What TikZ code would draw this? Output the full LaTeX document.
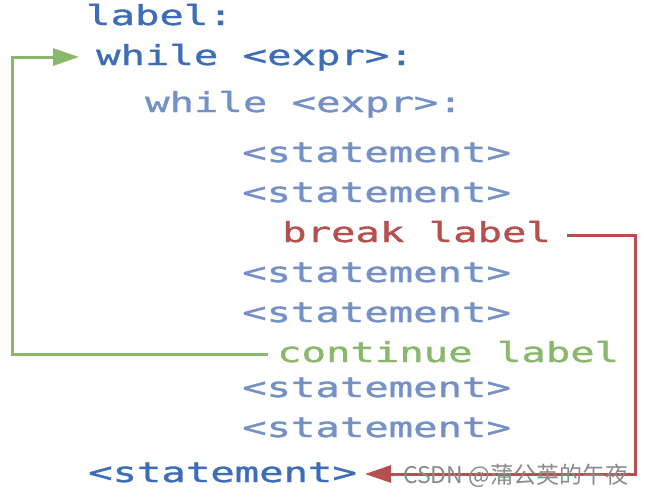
\documentclass[tikz,border=0pt]{standalone}
\usepackage{fontspec}
\newfontfamily\codefont[FakeStretch=1.47,FakeBold=1.2]{DejaVu Sans Mono}
\newfontfamily\cjkfont{Noto Sans CJK SC}
\usetikzlibrary{arrows.meta}
\definecolor{dblue}{HTML}{3D6CB8}
\definecolor{lblue}{HTML}{7490C6}
\definecolor{cred}{HTML}{B5504E}
\definecolor{cgreen}{HTML}{8AB86A}
\definecolor{wm}{HTML}{8A8A8A}
\tikzset{
  code/.style={anchor=base west, inner sep=0pt, font=\codefont\fontsize{27.6}{33}\selectfont},
  link/.style={line width=3pt, -{Triangle[length=26pt,width=17pt]}},
}
\begin{document}
\begin{tikzpicture}[x=1pt,y=-1pt]
\useasboundingbox[fill=white] (0,0) rectangle (647,498);
\node[code,text=dblue] (lab) at (86,25) {label:};
\node[code,text=dblue] (w1) at (96,65) {while <expr>:};
\node[code,text=lblue] (w2) at (145,112) {while <expr>:};
\node[code,text=lblue] (s1) at (242,162) {<statement>};
\node[code,text=lblue] (s2) at (242,202) {<statement>};
\node[code,text=cred] (brk) at (282,242) {break label};
\node[code,text=lblue] (s3) at (242,282) {<statement>};
\node[code,text=lblue] (s4) at (242,322) {<statement>};
\node[code,text=cgreen] (cont) at (277,362) {continue label};
\node[code,text=lblue] (s5) at (242,397) {<statement>};
\node[code,text=lblue] (s6) at (242,437) {<statement>};
\node[code,text=dblue] (s7) at (88,482) {<statement>};
\coordinate (gc) at (12,354);
\coordinate (rc) at (635,235);
\coordinate (gs) at (268,354);
\coordinate (rs) at (567,235);
\coordinate (gt) at (79,57);
\coordinate (rt) at (365,474);
\draw[link,cgreen] (gs) -- (gc) |- (gt);
\draw[link,cred] (rs) -- (rc) |- (rt);
\node[anchor=west,inner sep=0pt,text=wm,font=\cjkfont\fontsize{23}{26}\selectfont] (wmk) at (403,476) {CSDN @蒲公英的午夜};
\end{tikzpicture}
\end{document}
